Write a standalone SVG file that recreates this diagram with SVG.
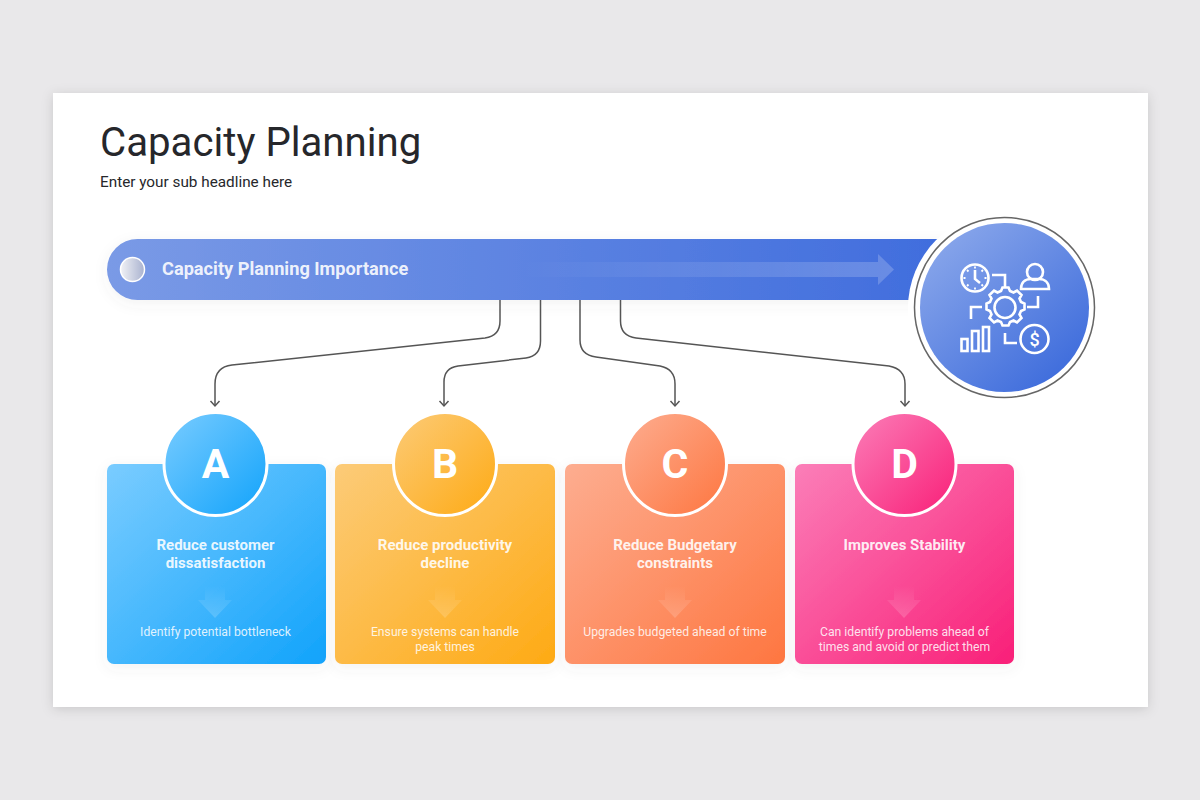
<svg xmlns="http://www.w3.org/2000/svg" width="1200" height="800" viewBox="0 0 1200 800">
<style>
.t{font-family:Roboto,"Liberation Sans",sans-serif;fill:#fff;text-anchor:middle}
.h{font-size:15px;font-weight:700;fill-opacity:.9}
.s{font-size:12.200px;fill-opacity:.85}
.l{font-size:41px;font-weight:700}
.c{fill:none;stroke:#555;stroke-width:1.500}
.ic{fill:none;stroke:#fff;stroke-width:2.600}
.ring{fill:none;stroke:#fff;stroke-width:3}
</style>
<defs>
<filter id="sh" x="-10%" y="-10%" width="120%" height="120%"><feDropShadow dx="0" dy="2" stdDeviation="6" flood-color="#000" flood-opacity=".14"/></filter>
<filter id="s2" x="-20%" y="-20%" width="140%" height="150%"><feDropShadow dx="0" dy="4" stdDeviation="7" flood-color="#556" flood-opacity=".07"/></filter>
<linearGradient id="bar" x1="0" y1="0" x2="1" y2="0"><stop offset="0" stop-color="#7a9ae6"/><stop offset="1" stop-color="#3f6cdd"/></linearGradient>
<linearGradient id="big" x1="0.15" y1="0.1" x2="0.85" y2="0.9"><stop offset="0" stop-color="#86a4ea"/><stop offset="1" stop-color="#3f6ddc"/></linearGradient>
<linearGradient id="dot" x1="0" y1="0" x2="1" y2="0"><stop offset="0" stop-color="#f1f2f6"/><stop offset="1" stop-color="#a9b2cf"/></linearGradient>
<linearGradient id="ar" x1="0" y1="0" x2="1" y2="0"><stop offset="0" stop-color="#fff" stop-opacity="0"/><stop offset="1" stop-color="#fff" stop-opacity=".2"/></linearGradient>
<linearGradient id="da" x1="0" y1="0" x2="0" y2="1"><stop offset="0" stop-color="#fff" stop-opacity="0"/><stop offset="1" stop-color="#fff" stop-opacity=".18"/></linearGradient>
<linearGradient id="ga" x1="0" y1="0" x2="1" y2="1"><stop offset="0" stop-color="#7accff"/><stop offset="1" stop-color="#11a3fb"/></linearGradient>
<linearGradient id="gb" x1="0" y1="0" x2="1" y2="1"><stop offset="0" stop-color="#fccb78"/><stop offset="1" stop-color="#feaa14"/></linearGradient>
<linearGradient id="gc" x1="0" y1="0" x2="1" y2="1"><stop offset="0" stop-color="#fdad90"/><stop offset="1" stop-color="#fe7640"/></linearGradient>
<linearGradient id="gd" x1="0" y1="0" x2="1" y2="1"><stop offset="0" stop-color="#fb7eb8"/><stop offset="1" stop-color="#f91f78"/></linearGradient>
<marker id="arr" markerWidth="12" markerHeight="12" refX="10" refY="6" orient="auto" markerUnits="userSpaceOnUse"><path d="M5 1.500L10 6L5 10.500" fill="none" stroke="#555" stroke-width="1.500"/></marker>
</defs>
<rect width="1200" height="800" fill="#e9e8ea"/>
<g id="slide"><rect x="53" y="93" width="1095" height="614" fill="#fff" filter="url(#sh)"/></g>
<g id="title">
<text x="100" y="156" style="font-family:Roboto,'Liberation Sans',sans-serif;font-size:40.200px;fill:#26272b">Capacity Planning</text>
<text x="100" y="187" style="font-family:Roboto,'Liberation Sans',sans-serif;font-size:15.300px;fill:#26272b">Enter your sub headline here</text>
</g>
<g id="connectors">
<path class="c" d="M500 300V321Q500 336 485 338L232 365Q215 367 215 384V406" marker-end="url(#arr)"/>
<path class="c" d="M540.500 300V341Q540.500 356 526 358L458 366Q444 368 444 382V406" marker-end="url(#arr)"/>
<path class="c" d="M580 300V340Q580 355 596 357L660 366Q675 369 675 384V406" marker-end="url(#arr)"/>
<path class="c" d="M620.500 300V321Q620.500 336 636 338L889 366Q905 369 905 384V406" marker-end="url(#arr)"/>
</g>
<g id="banner">
<path d="M137.500 239H960V300H137.500A30.500 30.500 0 0 1 137.500 239Z" fill="url(#bar)" filter="url(#s2)"/>
<path d="M520 262H878V254L894 269.500L878 285V277H520Z" fill="url(#ar)"/>
<circle cx="132.500" cy="269.500" r="12" fill="url(#dot)" stroke="#fff" stroke-width="1.500"/>
<text x="162" y="275" style="font-family:Roboto,'Liberation Sans',sans-serif;font-size:18.200px;font-weight:700;fill:#fff;fill-opacity:.9">Capacity Planning Importance</text>
</g>
<g id="hub">
<circle cx="1004" cy="308" r="96" fill="#fff"/>
<circle cx="1004.500" cy="307.500" r="90" fill="#fff" stroke="#666" stroke-width="1.500"/>
<circle cx="1004.500" cy="307.500" r="84.500" fill="url(#big)"/>
<g class="ic">
<circle cx="975" cy="278" r="13.500"/><path d="M975 270V279L980 283"/><path d="M975 266.500v2M975 287.500v2M963.500 278h2M984.500 278h2M967 270l1.500 1.500M983 270l-1.500 1.500M967 286l1.500-1.500M983 286l-1.500-1.500" stroke-width="1.800"/>
<path d="M992 275H1005V288"/>
<circle cx="1035" cy="272" r="8"/><path d="M1021 289C1021 280 1028 279 1031 279H1039C1043 279 1049 281 1049 289Z"/>
<path d="M1038 296V307H1027"/>
<circle cx="1005" cy="307.500" r="10.500"/>
<path d="M1005 288l3.500 0 1.500 3.500 3.500 1.500 3.500-2 4.500 4.500-2 3.500 1.500 3.500 3.500 1.500v6l-3.500 1.500-1.500 3.500 2 3.500-4.500 4.500-3.500-2-3.500 1.500-1.500 3.500h-6l-1.500-3.500-3.500-1.500-3.500 2-4.500-4.500 2-3.500-1.500-3.500-3.500-1.500v-6l3.500-1.500 1.500-3.500-2-3.500 4.500-4.500 3.500 2 3.500-1.500 1.500-3.500Z" transform="translate(0,-.500)"/>
<path d="M971 319V307H982"/>
<rect x="961.500" y="339" width="6" height="12"/><rect x="972" y="331" width="6.500" height="20"/><rect x="983" y="327" width="6" height="24"/>
<path d="M1005 333V343H1017"/>
<circle cx="1034.500" cy="339" r="14"/>
</g>
<text x="1034.500" y="345.500" style="font-family:Roboto,'Liberation Sans',sans-serif;font-size:18px;font-weight:500;fill:#fff;text-anchor:middle">$</text>
</g>
<g id="card-a">
<rect x="107" y="464" width="219" height="200" rx="7" fill="url(#ga)" filter="url(#s2)"/>
<path d="M205 586H225V600H232L215 618L198 600H205Z" fill="url(#da)"/>
<circle cx="215.500" cy="464" r="51" fill="url(#ga)"/><circle cx="215.500" cy="464" r="51.500" class="ring"/>
<text class="t l" x="215.500" y="478">A</text>
<text class="t h" x="215.500" y="550">Reduce customer</text><text class="t h" x="215.500" y="568">dissatisfaction</text>
<text class="t s" x="215.500" y="636">Identify potential bottleneck</text>
</g>
<g id="card-b">
<rect x="335" y="464" width="220" height="200" rx="7" fill="url(#gb)" filter="url(#s2)"/>
<path d="M435 586H455V600H462L445 618L428 600H435Z" fill="url(#da)"/>
<circle cx="445" cy="464" r="51" fill="url(#gb)"/><circle cx="445" cy="464" r="51.500" class="ring"/>
<text class="t l" x="445" y="478">B</text>
<text class="t h" x="445" y="550">Reduce productivity</text><text class="t h" x="445" y="568">decline</text>
<text class="t s" x="445" y="636">Ensure systems can handle</text><text class="t s" x="445" y="651">peak times</text>
</g>
<g id="card-c">
<rect x="565" y="464" width="220" height="200" rx="7" fill="url(#gc)" filter="url(#s2)"/>
<path d="M665 586H685V600H692L675 618L658 600H665Z" fill="url(#da)"/>
<circle cx="675" cy="464" r="51" fill="url(#gc)"/><circle cx="675" cy="464" r="51.500" class="ring"/>
<text class="t l" x="675" y="478">C</text>
<text class="t h" x="675" y="550">Reduce Budgetary</text><text class="t h" x="675" y="568">constraints</text>
<text class="t s" x="675" y="636">Upgrades budgeted ahead of time</text>
</g>
<g id="card-d">
<rect x="795" y="464" width="219" height="200" rx="7" fill="url(#gd)" filter="url(#s2)"/>
<path d="M894 586H914V600H921L904 618L887 600H894Z" fill="url(#da)"/>
<circle cx="904.500" cy="464" r="51" fill="url(#gd)"/><circle cx="904.500" cy="464" r="51.500" class="ring"/>
<text class="t l" x="904.500" y="478">D</text>
<text class="t h" x="904.500" y="550">Improves Stability</text>
<text class="t s" x="904.500" y="636">Can identify problems ahead of</text><text class="t s" x="904.500" y="651">times and avoid or predict them</text>
</g>
</svg>
